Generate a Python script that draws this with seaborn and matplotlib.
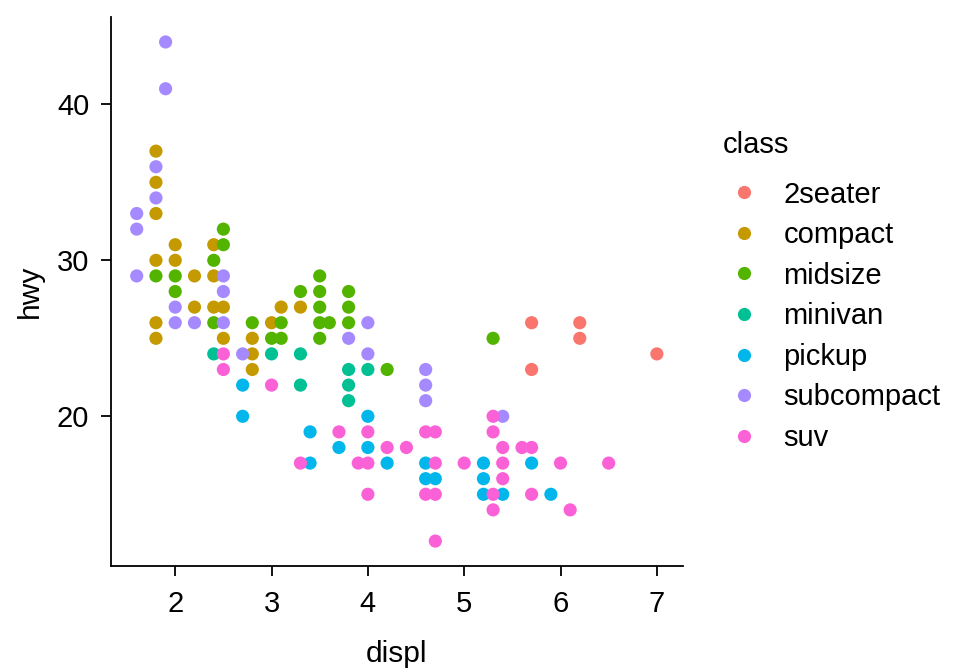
import pandas as pd
import matplotlib
matplotlib.use("Agg")
import matplotlib.pyplot as plt
import seaborn as sns

# points (displ, hwy) per class
seater_displ = [5.7, 5.7, 6.2, 6.2, 7.0]
seater_hwy = [26, 23, 26, 25, 24]

compact_displ = [1.8, 1.8, 1.8, 2.0, 2.4, 1.8, 2.0, 2.2, 2.4, 2.2, 2.4, 2.5, 3.1, 3.3,
                 1.8, 3.0, 1.8, 2.5, 2.8, 2.8, 2.8]
compact_hwy = [37, 35, 33, 31, 31, 30, 30, 29, 29, 27, 27, 27, 27, 27,
               26, 26, 25, 25, 25, 24, 23]

midsize_displ = [2.5, 2.5, 2.4, 1.8, 2.0, 2.0, 3.3, 2.4, 2.8, 3.1, 3.0, 3.1,
                 3.5, 3.5, 3.8, 3.5, 3.8, 3.5, 3.6, 3.8, 3.5, 4.2, 5.3]
midsize_hwy = [32, 31, 30, 29, 29, 28, 28, 26, 26, 26, 25, 25,
               29, 28, 28, 27, 27, 26, 26, 26, 25, 23, 25]

minivan_displ = [2.4, 3.0, 3.3, 3.3, 3.8, 4.0, 3.8, 3.8]
minivan_hwy = [24, 24, 24, 22, 23, 23, 22, 21]

pickup_displ = [2.7, 2.7, 3.4, 4.0, 3.7, 4.0, 3.4, 4.2, 4.6, 4.6, 4.7,
                5.2, 5.7, 5.2, 5.2, 5.4, 5.9]
pickup_hwy = [22, 20, 19, 20, 18, 18, 17, 17, 17, 16, 16,
              17, 17, 16, 15, 15, 15]

subcompact_displ = [1.9, 1.9, 1.8, 1.8, 1.6, 1.6, 1.6, 2.5, 2.5, 2.0, 2.5, 2.0, 2.2,
                    2.7, 4.0, 3.8, 4.0, 4.6, 4.6, 4.6, 5.4]
subcompact_hwy = [44, 41, 36, 34, 33, 32, 29, 29, 28, 27, 26, 26, 26,
                  24, 26, 25, 24, 23, 22, 21, 20]

suv_displ = [2.5, 2.5, 3.0, 3.3, 3.7, 4.0, 4.6, 4.7, 4.2, 4.4, 3.9, 4.0, 4.7, 5.0,
             4.0, 4.6, 4.7, 4.7, 5.3, 5.3, 5.4, 5.6, 5.7, 5.4, 6.0, 6.5, 5.4,
             5.3, 5.7, 5.3, 6.1]
suv_hwy = [24, 23, 22, 17, 19, 19, 19, 19, 18, 18, 17, 17, 17, 17,
           15, 15, 15, 12, 20, 19, 18, 18, 18, 17, 17, 17, 16,
           15, 15, 14, 14]

class_names = ["2seater", "compact", "midsize", "minivan", "pickup", "subcompact", "suv"]
class_colors = ["#F8766D", "#C49A00", "#53B400", "#00C094", "#00B6EB", "#A58AFF", "#FB61D7"]

frames = []
for name, xs, ys in zip(class_names,
                        [seater_displ, compact_displ, midsize_displ, minivan_displ,
                         pickup_displ, subcompact_displ, suv_displ],
                        [seater_hwy, compact_hwy, midsize_hwy, minivan_hwy,
                         pickup_hwy, subcompact_hwy, suv_hwy]):
    frames.append(pd.DataFrame({"displ": xs, "hwy": ys, "class": name}))
mpg = pd.concat(frames, ignore_index=True)

sns.set_style("ticks")
plt.rcParams["font.family"] = ["Liberation Sans", "DejaVu Sans"]
plt.rcParams["text.color"] = "black"
plt.rcParams["axes.labelcolor"] = "black"

fig = plt.figure(figsize=(9.6, 6.72), dpi=100)
ax = fig.add_axes([0.1153, 0.1577, 0.596, 0.817])

sns.scatterplot(data=mpg, x="displ", y="hwy", hue="class", hue_order=class_names,
                palette=class_colors, s=90, linewidth=0, alpha=1, ax=ax)

ax.set_xlim(1.33, 7.27)
ax.set_ylim(10.4, 45.6)
ax.set_xticks([2, 3, 4, 5, 6, 7])
ax.set_yticks([20, 30, 40])
for side in ["top", "right"]:
    ax.spines[side].set_visible(False)
for side in ["left", "bottom"]:
    ax.spines[side].set_linewidth(1.3)
    ax.spines[side].set_color("black")
ax.tick_params(axis="both", length=7, width=1.3, color="black", labelsize=21,
               labelcolor="black")
ax.tick_params(axis="x", pad=10.5)
ax.tick_params(axis="y", pad=8.5)
ax.set_xlabel("displ", fontsize=21.5, labelpad=15.5)
ax.set_ylabel("hwy", fontsize=21.5, labelpad=9)

handles, labels = ax.get_legend_handles_labels()
ax.legend_.remove()
leg = fig.legend(handles, labels, title="class", loc="upper left",
                 bbox_to_anchor=(691 / 960, 1 - 99 / 672), frameon=False,
                 fontsize=21, title_fontsize=21, borderpad=1.1, borderaxespad=0,
                 handlelength=1.45, handletextpad=0.62, labelspacing=0.43,
                 markerscale=1.0)
leg._legend_box.align = "left"
leg._legend_box.sep = 15.5  # wider gap between title and first key

fig.savefig("out.png", dpi=100)
